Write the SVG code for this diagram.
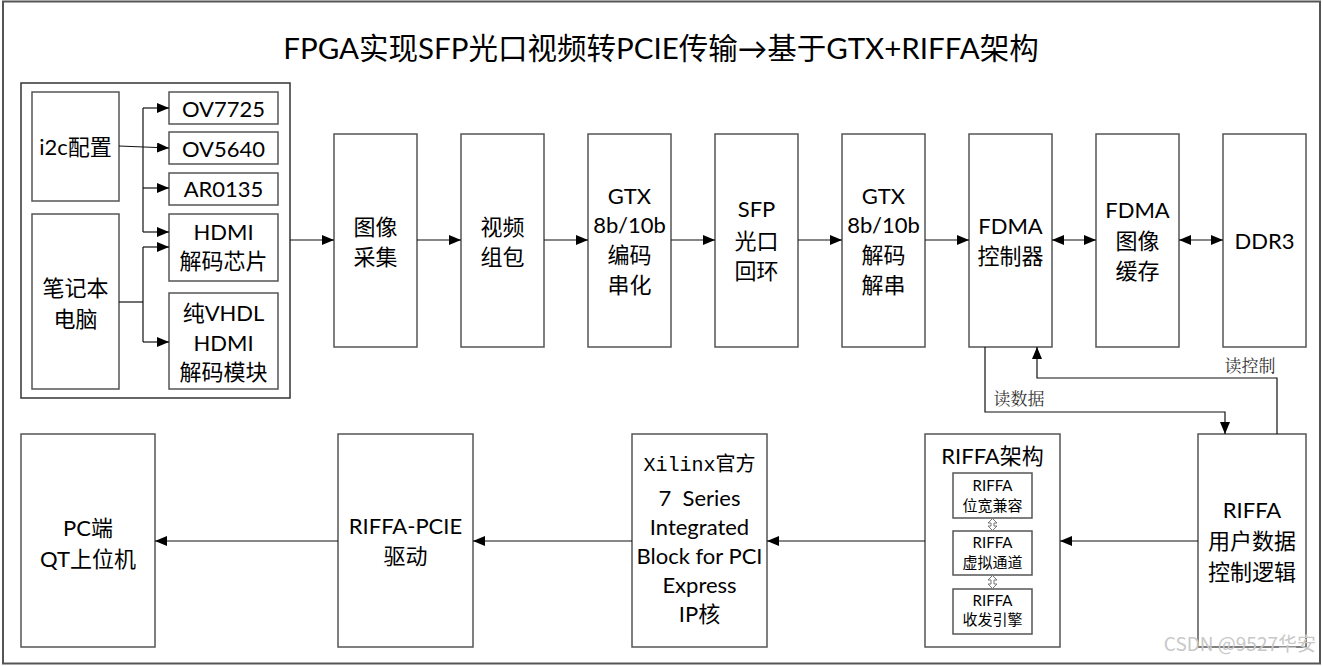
<svg xmlns="http://www.w3.org/2000/svg" width="1323" height="666" viewBox="0 0 1323 666">
<style>
.box{fill:#fff;stroke:#555;stroke-width:1.5}
.grp{fill:none;stroke:#333;stroke-width:1.5}
.t{font-family:Lato,"Noto Sans CJK SC",sans-serif;font-size:22px;fill:#000;text-anchor:middle;dominant-baseline:central}
.s{font-size:15px}
.lbl{font-family:"Noto Serif CJK SC","Noto Sans CJK SC",serif;font-size:17px;fill:#333;text-anchor:middle;dominant-baseline:central}
.ln{fill:none;stroke:#111;stroke-width:1.2}
.mono{font-family:"Liberation Mono","Noto Sans CJK SC",monospace;white-space:pre}
</style>
<defs>
<marker id="ah" viewBox="0 0 12 10" refX="12" refY="5" markerWidth="12" markerHeight="10" markerUnits="userSpaceOnUse" orient="auto-start-reverse">
<path d="M0,0 L12,5 L0,10 Z" fill="#000"/>
</marker>
</defs>
<rect x="0" y="0" width="1323" height="666" fill="#fff"/>
<rect x="3" y="1.5" width="1317" height="662" fill="none" stroke="#555" stroke-width="2"/>
<text class="t" x="661" y="47" style="font-size:29.5px">FPGA实现SFP光口视频转PCIE传输→基于GTX+RIFFA架构</text>

<g id="source-group"><rect class="grp" x="21" y="83" width="269" height="315"/></g>
<g id="i2c"><rect class="box" x="32" y="92" width="87" height="109"/><text class="t" x="75.5" y="146">i2c配置</text></g>
<g id="laptop"><rect class="box" x="32" y="214" width="87" height="175"/><text class="t" x="75.5" y="287">笔记本</text><text class="t" x="75.5" y="318">电脑</text></g>
<g id="ov7725"><rect class="box" x="169" y="92" width="109" height="32"/><text class="t" x="223.5" y="108">OV7725</text></g>
<g id="ov5640"><rect class="box" x="169" y="132" width="109" height="32"/><text class="t" x="223.5" y="148">OV5640</text></g>
<g id="ar0135"><rect class="box" x="169" y="173" width="109" height="32"/><text class="t" x="223.5" y="188">AR0135</text></g>
<g id="hdmi-chip"><rect class="box" x="169" y="214" width="109" height="67"/><text class="t" x="223.5" y="231">HDMI</text><text class="t" x="223.5" y="260">解码芯片</text></g>
<g id="vhdl-hdmi"><rect class="box" x="169" y="293" width="109" height="96"/><text class="t" x="223.5" y="312">纯VHDL</text><text class="t" x="223.5" y="342">HDMI</text><text class="t" x="223.5" y="371">解码模块</text></g>

<g id="capture"><rect class="box" x="334" y="134" width="83" height="213"/><text class="t" x="375.5" y="226">图像</text><text class="t" x="375.5" y="256">采集</text></g>
<g id="pack"><rect class="box" x="461" y="134" width="83" height="213"/><text class="t" x="502.5" y="226">视频</text><text class="t" x="502.5" y="256">组包</text></g>
<g id="gtx-enc"><rect class="box" x="588" y="134" width="83" height="213"/><text class="t" x="629.5" y="195">GTX</text><text class="t" x="629.5" y="224">8b/10b</text><text class="t" x="629.5" y="254">编码</text><text class="t" x="629.5" y="284">串化</text></g>
<g id="sfp"><rect class="box" x="715" y="134" width="83" height="213"/><text class="t" x="756.5" y="208">SFP</text><text class="t" x="756.5" y="240">光口</text><text class="t" x="756.5" y="270">回环</text></g>
<g id="gtx-dec"><rect class="box" x="842" y="134" width="83" height="213"/><text class="t" x="883.5" y="195">GTX</text><text class="t" x="883.5" y="224">8b/10b</text><text class="t" x="883.5" y="254">解码</text><text class="t" x="883.5" y="284">解串</text></g>
<g id="fdma-ctrl"><rect class="box" x="969" y="134" width="83" height="213"/><text class="t" x="1010.5" y="225">FDMA</text><text class="t" x="1010.5" y="255">控制器</text></g>
<g id="fdma-buf"><rect class="box" x="1096" y="134" width="83" height="213"/><text class="t" x="1137.5" y="209">FDMA</text><text class="t" x="1137.5" y="240">图像</text><text class="t" x="1137.5" y="270">缓存</text></g>
<g id="ddr3"><rect class="box" x="1223" y="134" width="83" height="213"/><text class="t" x="1264.5" y="240">DDR3</text></g>

<g id="pc"><rect class="box" x="21" y="434" width="134" height="213"/><text class="t" x="88" y="527">PC端</text><text class="t" x="88" y="558">QT上位机</text></g>
<g id="riffa-driver"><rect class="box" x="338" y="434" width="135" height="213"/><text class="t" x="405.5" y="525">RIFFA-PCIE</text><text class="t" x="405.5" y="555">驱动</text></g>
<g id="xilinx-ip"><rect class="box" x="632" y="434" width="135" height="213"/><text class="t mono" x="699.5" y="465" style="font-size:20px">Xilinx官方</text><text class="t" x="699.5" y="497" style="white-space:pre">7  Series</text><text class="t" x="699.5" y="526">Integrated</text><text class="t" x="699.5" y="555">Block for PCI</text><text class="t" x="699.5" y="584">Express</text><text class="t" x="699.5" y="613">IP核</text></g>
<g id="riffa-arch"><rect class="box" x="925" y="434" width="135" height="213"/><text class="t" x="992.5" y="455">RIFFA架构</text>
<rect class="box" x="953" y="473" width="79" height="45"/><text class="t s" x="992.5" y="485">RIFFA</text><text class="t s" x="992.5" y="505">位宽兼容</text>
<rect class="box" x="953" y="531" width="79" height="44"/><text class="t s" x="992.5" y="542">RIFFA</text><text class="t s" x="992.5" y="562">虚拟通道</text>
<rect class="box" x="953" y="589" width="79" height="45"/><text class="t s" x="992.5" y="600">RIFFA</text><text class="t s" x="992.5" y="619">收发引擎</text>
<path d="M992.5,518.5 L988,523 L991,523 L991,526 L988,526 L992.5,530.5 L997,526 L994,526 L994,523 L997,523 Z" fill="#fff" stroke="#777" stroke-width="1"/>
<path d="M992.5,575.5 L988,580 L991,580 L991,584 L988,584 L992.5,588.5 L997,584 L994,584 L994,580 L997,580 Z" fill="#fff" stroke="#777" stroke-width="1"/>
</g>
<g id="riffa-user"><rect class="box" x="1198" y="434" width="108" height="213"/><text class="t" x="1252" y="509">RIFFA</text><text class="t" x="1252" y="540">用户数据</text><text class="t" x="1252" y="571">控制逻辑</text></g>

<g id="connectors">
<path class="ln" d="M119,146 L169,148" marker-end="url(#ah)"/>
<path class="ln" d="M143,108 L143,232"/>
<path class="ln" d="M143,108 L169,108" marker-end="url(#ah)"/>
<path class="ln" d="M143,188 L169,188" marker-end="url(#ah)"/>
<path class="ln" d="M143,232 L169,232" marker-end="url(#ah)"/>
<path class="ln" d="M119,302 L143,302"/>
<path class="ln" d="M143,247 L143,342"/>
<path class="ln" d="M143,247 L169,247" marker-end="url(#ah)"/>
<path class="ln" d="M143,342 L169,342" marker-end="url(#ah)"/>
<path class="ln" d="M290,240 L334,240" marker-end="url(#ah)"/>
<path class="ln" d="M417,240 L461,240" marker-end="url(#ah)"/>
<path class="ln" d="M544,240 L588,240" marker-end="url(#ah)"/>
<path class="ln" d="M671,240 L715,240" marker-end="url(#ah)"/>
<path class="ln" d="M798,240 L842,240" marker-end="url(#ah)"/>
<path class="ln" d="M925,240 L969,240" marker-end="url(#ah)"/>
<path class="ln" d="M1052,240 L1096,240" marker-start="url(#ah)" marker-end="url(#ah)"/>
<path class="ln" d="M1179,240 L1223,240" marker-start="url(#ah)" marker-end="url(#ah)"/>
<path class="ln" d="M985,347 L985,412 L1225,412 L1225,434" marker-end="url(#ah)"/>
<path class="ln" d="M1277,434 L1277,378 L1037,378 L1037,347" marker-end="url(#ah)"/>
<path class="ln" d="M1198,541 L1060,541" marker-end="url(#ah)"/>
<path class="ln" d="M925,541 L767,541" marker-end="url(#ah)"/>
<path class="ln" d="M632,541 L473,541" marker-end="url(#ah)"/>
<path class="ln" d="M338,541 L155,541" marker-end="url(#ah)"/>
<text class="lbl" x="1019" y="397">读数据</text>
<text class="lbl" x="1250" y="364">读控制</text>
</g>
<text x="1316" y="642" style="font-family:'Noto Sans CJK SC',sans-serif;font-size:19px;fill:#c8c8c8;text-anchor:end;dominant-baseline:central">CSDN @9527华安</text>
</svg>
